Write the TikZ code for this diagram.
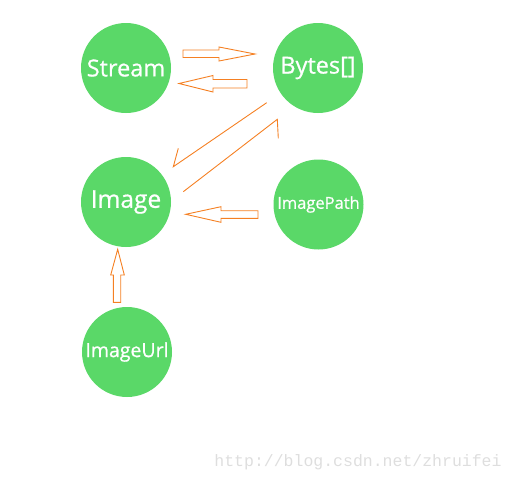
\documentclass[tikz,border=0pt]{standalone}
\usepackage{fontspec}
\setmainfont{Open Sans}
\newfontfamily\wmfont{Liberation Mono}
\font\fbig="Open Sans:embolden=0.7" at 23.5pt
\font\fimg="Open Sans:embolden=0.7" at 24.5pt
\font\fpath="Open Sans:embolden=0.7" at 16.5pt
\font\furl="Open Sans:embolden=0.7" at 19.5pt
\definecolor{bubble}{RGB}{90,216,104}
\definecolor{arrowc}{RGB}{245,128,35}
\definecolor{wm}{RGB}{222,222,222}
\begin{document}
\begin{tikzpicture}[x=1pt,y=-1pt,
  bub/.style={circle,fill=bubble,minimum size=90pt,inner sep=0pt,text=white},
  outarrow/.style={draw=arrowc,line width=0.9pt,line join=miter,fill=white}]
\useasboundingbox (0,0) rectangle (515,480);
\node[bub,font=\fbig] (stream) at (126,68) {Stream};
\node[bub,font=\fbig] (bytes) at (318,68) {Bytes[]};
\node[bub,font=\fimg] (image) at (126,202) {Image};
\node[bub,font=\fpath] (path) at (318.5,204.5) {ImagePath};
\node[bub,font=\furl] (url) at (127,352) {ImageUrl};
% Stream -> Bytes
\draw[outarrow] (183,50) -- (219,50) -- (219,47) -- (255,54) -- (219,61) -- (219,57.5) -- (183,57.5) -- cycle;
% Bytes -> Stream
\draw[outarrow] (247,79.5) -- (213,79.5) -- (213,75.5) -- (179,83.5) -- (213,92) -- (213,88) -- (247,88) -- cycle;
% Bytes -> Image (thin)
\draw[draw=arrowc,line width=0.9pt] (266.7,102.7) -- (173.3,166.7) -- (178.3,148.3);
% Image -> Bytes (thin)
\draw[draw=arrowc,line width=0.9pt] (183.3,191.7) -- (277.3,119.3) -- (278.3,138.3);
% ImagePath -> Image
\draw[outarrow] (258,210.7) -- (221,210.7) -- (221,206.7) -- (185.7,214.3) -- (221,222.3) -- (221,218.3) -- (258,218.3) -- cycle;
% ImageUrl -> Image
\draw[outarrow] (113.3,302.3) -- (113.3,275) -- (110.7,275) -- (117.7,249.3) -- (124.3,275) -- (120.7,275) -- (120.7,302.3) -- cycle;
\node[text=wm,font=\wmfont\fontsize{16.5}{18}\selectfont,anchor=base] (wmk) at (358,466) {http://blog.csdn.net/zhruifei};
\end{tikzpicture}
\end{document}
